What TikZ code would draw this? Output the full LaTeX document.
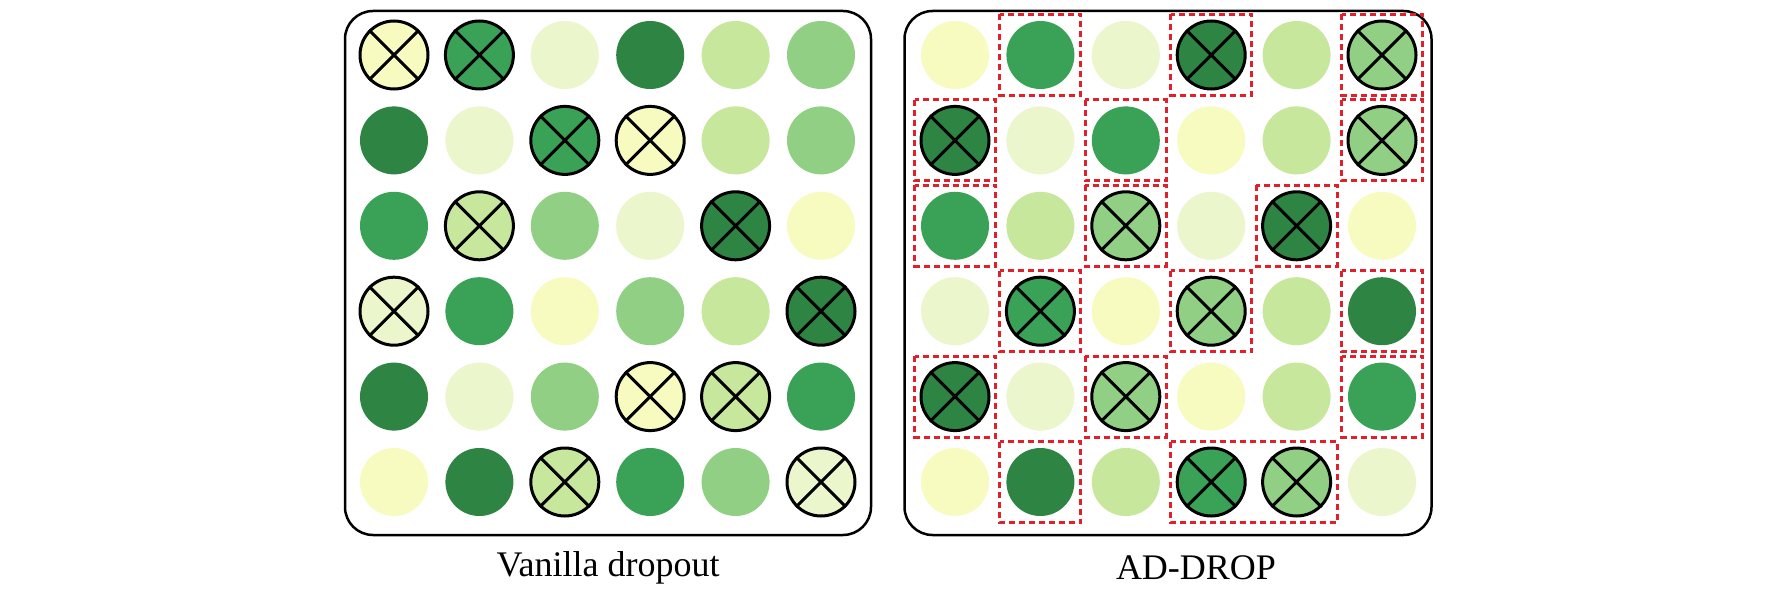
\documentclass[tikz,border=0pt]{standalone}
\usepackage{fontspec}
\setmainfont{Liberation Serif}
\definecolor{cA}{HTML}{F7FBC0}
\definecolor{cB}{HTML}{EBF6CC}
\definecolor{cC}{HTML}{C6E79C}
\definecolor{cD}{HTML}{91D084}
\definecolor{cE}{HTML}{3AA257}
\definecolor{cF}{HTML}{2E8443}
\definecolor{rd}{HTML}{E0202A}
\tikzset{
 panel/.style={draw,line width=2.5pt,rounded corners=28pt},
 dot/.style={circle,minimum size=68pt,inner sep=0pt},
 xdot/.style={dot,draw,line width=3pt},
 crossline/.style={line width=3pt},
 sel/.style={draw=rd,line width=3pt,dash pattern=on 6pt off 4pt},
 lab/.style={font=\fontsize{36}{40}\selectfont}
}
\newcommand{\celldraw}[4]{% name, x, y, colour+flag
 \node[dot,fill=c#4] (#1) at (#2,#3) {};}
\begin{document}
\begin{tikzpicture}[x=1pt,y=-1pt]
\useasboundingbox (0,0) rectangle (1786,591);
\fill[white] (0,0) rectangle (1786,591);
\node[panel,minimum width=526pt,minimum height=524pt] (P1) at (608,273) {};
\node[panel,minimum width=527pt,minimum height=524pt] (P2) at (1168,273) {};
% left
\foreach \r/\row in {1/{A/1,E/1,B/0,F/0,C/0,D/0},2/{F/0,B/0,E/1,A/1,C/0,D/0},3/{E/0,C/1,D/0,B/0,F/1,A/0},4/{B/1,E/0,A/0,D/0,C/0,F/1},5/{F/0,B/0,D/0,A/1,C/1,E/0},6/{A/0,F/0,C/1,E/0,D/0,B/1}}{
 \foreach \c/\f [count=\k] in \row {
  \pgfmathsetmacro{\xx}{394+(\k-1)*85.4}
  \pgfmathsetmacro{\yy}{55+(\r-1)*85.4}
  \ifnum\f=1
   \node[xdot,fill=c\c] (L\r\k) at (\xx,\yy) {};
   \draw[crossline] (L\r\k.north west) -- (L\r\k.south east) (L\r\k.north east) -- (L\r\k.south west);
  \else
   \node[dot,fill=c\c] (L\r\k) at (\xx,\yy) {};
  \fi
 }
}
% right: flag 0 plain, 1 crossed, 2 boxed plain, 3 boxed crossed
\foreach \r/\row in {1/{A/0,E/2,B/0,F/3,C/0,D/3},2/{F/3,B/0,E/2,A/0,C/0,D/3},3/{E/2,C/0,D/3,B/0,F/3,A/0},4/{B/0,E/3,A/0,D/3,C/0,F/2},5/{F/3,B/0,D/3,A/0,C/0,E/2},6/{A/0,F/2,C/0,E/1,D/1,B/0}}{
 \foreach \c/\f [count=\k] in \row {
  \pgfmathsetmacro{\xx}{955+(\k-1)*85.4}
  \pgfmathsetmacro{\yy}{55+(\r-1)*85.4}
  \ifodd\f
   \node[xdot,fill=c\c] (R\r\k) at (\xx,\yy) {};
   \draw[crossline] (R\r\k.north west) -- (R\r\k.south east) (R\r\k.north east) -- (R\r\k.south west);
  \else
   \node[dot,fill=c\c] (R\r\k) at (\xx,\yy) {};
  \fi
  \ifnum\f>1
   \draw[sel] ([shift={(-40.5,-40.5)}]R\r\k.center) rectangle ([shift={(40.5,40.5)}]R\r\k.center);
  \fi
 }
}
\draw[sel] ([shift={(-40.5,-40.5)}]R64.center) rectangle ([shift={(40.5,40.5)}]R65.center);
\node[lab] (t1) at (608,568) {Vanilla dropout};
\node[lab] (t2) at (1196,568) {AD-DROP};
\end{tikzpicture}
\end{document}
